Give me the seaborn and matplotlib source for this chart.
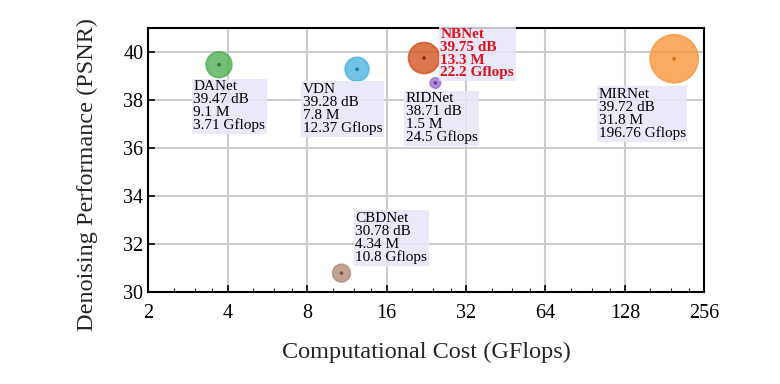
import numpy as np
import pandas as pd
import matplotlib
matplotlib.use("Agg")
from matplotlib import pyplot as plt
from matplotlib import ticker
import seaborn as sns

models = ["DANet", "VDN", "NBNet", "RIDNet", "MIRNet", "CBDNet"]
gflops = [3.71, 12.37, 22.2, 24.5, 196.76, 10.8]
psnr = [39.47, 39.28, 39.75, 38.71, 39.72, 30.78]
params = [9.1, 7.8, 13.3, 1.5, 31.8, 4.34]
colors = ["#4caf50", "#4ab3e0", "#d2501c", "#9b6fcf", "#f9953a", "#b08878"]
dot_colors = ["#2e7d32", "#1f78b4", "#8b2a08", "#6a3d9a", "#e07010", "#7a5548"]
# where each label box starts (top-left corner, data coords)
label_xy = [(2.96, 38.83), (7.72, 38.71), (25.6, 41.0), (18.9, 38.33), (101.8, 38.5), (12.2, 33.33)]
xticks = [2, 4, 8, 16, 32, 64, 128, 256]
yticks = [30, 32, 34, 36, 38, 40]

df = pd.DataFrame({"Model": models, "GFlops": gflops, "PSNR": psnr, "Params": params})

sns.set_style("whitegrid")
plt.rcParams["font.family"] = ["Liberation Serif", "DejaVu Serif"]

fig, ax = plt.subplots(figsize=(7.8, 3.84), dpi=100)
fig.subplots_adjust(left=0.19, right=0.903, top=0.927, bottom=0.24)

sns.scatterplot(data=df, x="GFlops", y="PSNR", hue="Model", palette=dict(zip(models, colors)),
                size="Params", sizes=(0, 1200), size_norm=(0, 31.8), alpha=0.78,
                edgecolor="face", linewidth=1.2, legend=False, ax=ax, zorder=3)
sns.scatterplot(data=df, x="GFlops", y="PSNR", hue="Model", palette=dict(zip(models, dot_colors)),
                s=7, linewidth=0, legend=False, ax=ax, zorder=4)

for i, m in enumerate(models):
    txt = "%s\n%.2f dB\n%s M\n%s Gflops" % (m, psnr[i], params[i], gflops[i])
    bold = m == "NBNet"
    ax.text(label_xy[i][0], label_xy[i][1], txt, fontsize=11, va="top", ha="left",
            linespacing=0.98, color="#e0101a" if bold else "black",
            fontweight="bold" if bold else "normal", zorder=5,
            bbox=dict(boxstyle="square,pad=0.1", facecolor="#e6e6f8", edgecolor="none", alpha=0.85))

ax.set_xscale("log", base=2)
ax.set_xlim(2, 256)
ax.set_ylim(30, 41)
ax.xaxis.set_major_locator(ticker.FixedLocator(xticks))
ax.xaxis.set_major_formatter(ticker.FixedFormatter([str(t) for t in xticks]))
ax.xaxis.set_minor_locator(ticker.LogLocator(base=2, subs=np.arange(1, 2, 0.25)))
ax.xaxis.set_minor_formatter(ticker.NullFormatter())
ax.set_yticks(yticks)
ax.grid(True, which="major", color="#cccccc", linewidth=1.5)
ax.tick_params(axis="both", which="major", direction="in", length=5, width=1.2,
               labelsize=14.5, bottom=True, left=True, colors="black")
ax.tick_params(axis="x", which="minor", direction="in", length=3, width=0.8, bottom=True)
ax.tick_params(axis="x", which="major", pad=9)
for sp in ax.spines.values():
    sp.set_color("black")
    sp.set_linewidth(1.5)

ax.set_xlabel("Computational Cost (GFlops)", fontsize=17.5, labelpad=13)
ax.set_ylabel("Denoising Performance (PSNR)", fontsize=17.5)
ax.yaxis.set_label_coords(-0.09, 0.445)

plt.savefig("out.png", dpi=100)
